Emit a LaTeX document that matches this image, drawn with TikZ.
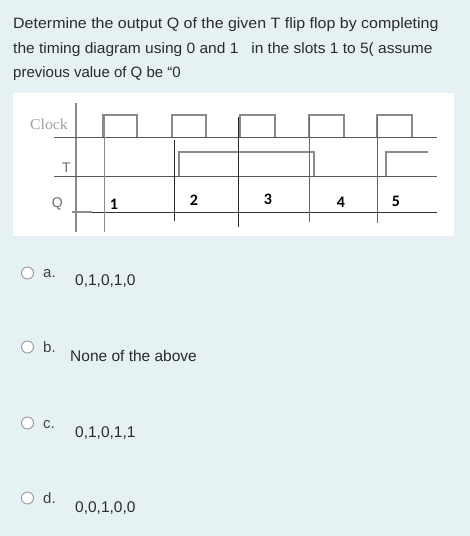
\documentclass[tikz,border=0pt]{standalone}
\usepackage{graphicx}
\usepackage{fontspec}
\setmainfont{Liberation Sans}
\newfontfamily\serifgray{Liberation Serif}
\newfontfamily\numfont{Carlito}
\definecolor{bgc}{HTML}{E6F1F4}
\definecolor{txt}{HTML}{2B2B2B}
\definecolor{sig}{HTML}{8A8A8A}
\definecolor{lbl}{HTML}{A0A0A0}
\definecolor{lbld}{HTML}{6A6A6A}
\begin{document}
\begin{tikzpicture}[x=1pt,y=-1pt,
  qtext/.style={anchor=base west,inner sep=0pt,text=txt,font=\fontsize{15}{18}\selectfont},
  opttext/.style={anchor=base west,inner sep=0pt,text=txt,font=\fontsize{15.5}{18}\selectfont},
  letter/.style={anchor=base west,inner sep=0pt,text=black!75,font=\fontsize{15}{18}\selectfont},
  radio/.style={circle,draw=black!40,fill=white,line width=0.9pt,minimum size=12pt,inner sep=0pt},
  sigline/.style={draw=sig,line width=1.8pt},
  baseln/.style={draw=black!65,line width=1pt},
  marker/.style={draw=black!85,line width=0.9pt},
  slotnum/.style={anchor=base,inner sep=0pt,font=\numfont\bfseries\fontsize{16}{18}\selectfont},
  axlabel/.style={anchor=base east,inner sep=0pt}]
\useasboundingbox (0,0) rectangle (470,536);
\fill[bgc] (0,0) rectangle (470,536);
% question
\node[qtext] (q1) at (13,28) {\scalebox{1.065}[1]{Determine the output Q of the given T flip flop by completing}};
\node[qtext] (q2) at (13,53) {\scalebox{1.035}[1]{the timing diagram using 0 and 1 \ \ in the slots 1 to 5( assume}};
\node[qtext] (q3) at (13,77) {previous value of Q be “0};
% panel
\fill[white] (13,93) rectangle (454,236);
% labels
\node[axlabel,text=lbl,font=\serifgray\fontsize{15}{18}\selectfont] (lclk) at (68,129) {\scalebox{1.05}[1]{Clock}};
\node[axlabel,text=lbld,font=\fontsize{14}{16}\selectfont] (lt) at (71,172) {T};
\node[axlabel,text=lbld,font=\fontsize{14}{16}\selectfont] (lq) at (63,207) {Q};
% axis
\coordinate (axt) at (76,103); \coordinate (axb) at (76,232);
\draw[sigline] (axt) -- (axb);
% clock
\coordinate (c0) at (54,137); \coordinate (c1) at (437,137);
\draw[baseln] (c0) -- (c1);
\foreach \a/\b in {103/137,172/206,240/275,309/344,377/412}{
  \draw[sigline,line join=miter] (\a,137) -- (\a,115) -- (\b,115) -- (\b,137);
}
% T
\coordinate (t0) at (54,176); \coordinate (t1) at (437,176);
\draw[baseln] (t0) -- (t1);
\draw[sigline,line join=miter] (179,176) -- (179,152) -- (314,152) -- (314,176);
\draw[sigline,line join=miter] (386,176) -- (386,152) -- (428,152);
% Q
\coordinate (qa) at (72,212); \coordinate (qb) at (437,212);
\draw[draw=black!80,line width=1pt] (qa) -- (qb);
\draw[sigline] (72,212) -- (92,212);
% vertical markers
\draw[draw=black!45,line width=1pt] (104,115) -- (104,232);
\draw[marker] (174,140) -- (174,221);
\draw[marker] (238,117) -- (238,227);
\draw[marker,draw=black!60] (309,117) -- (309,222);
\draw[marker,draw=black!60] (377,117) -- (377,223);
% slot numbers
\node[slotnum] (n1) at (114,209) {1};
\node[slotnum] (n2) at (194,205) {2};
\node[slotnum] (n3) at (268,204) {3};
\node[slotnum] (n4) at (341,207) {4};
\node[slotnum] (n5) at (396,206) {5};
% options
\node[radio] (ra) at (27.5,273) {};
\node[letter] (la) at (43,277) {a.};
\node[opttext] (oa) at (75,285) {0,1,0,1,0};
\node[radio] (rb) at (27.5,347) {};
\node[letter] (lb) at (43,352) {b.};
\node[opttext] (ob) at (70,361) {None of the above};
\node[radio] (rc) at (27.5,423) {};
\node[letter] (lc) at (43,428) {c.};
\node[opttext] (oc) at (75,437) {0,1,0,1,1};
\node[radio] (rd) at (27.5,498) {};
\node[letter] (ld) at (43,503) {d.};
\node[opttext] (od) at (75,512) {0,0,1,0,0};
\end{tikzpicture}
\end{document}
